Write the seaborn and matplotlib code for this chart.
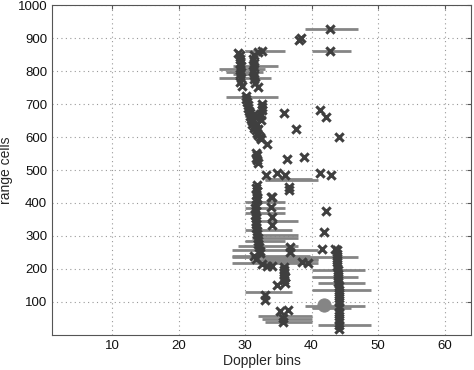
import seaborn as sns
import matplotlib.pyplot as plt
import pandas as pd

# detections (x markers): Doppler bin, range cell
det_x = [42.8, 38.1, 38.4, 42.8, 32.0, 32.6, 29.0,
         29.2, 29.3, 29.2, 29.4, 29.3, 29.2, 29.4, 29.3, 29.5,
         31.3, 31.2, 31.4, 31.3, 31.2, 31.4, 31.3, 31.5, 31.9,
         30.1, 30.2, 30.3, 30.4, 30.5, 30.6, 30.7, 30.8, 30.9, 31.0, 31.1,
         31.3, 31.4, 31.6, 31.8, 32.0, 32.2, 32.4, 31.5, 31.3, 31.8, 32.0,
         32.6, 32.6, 32.5, 32.4, 32.4, 33.3,
         35.9, 41.3, 42.2, 37.7, 44.2,
         31.7, 31.8, 31.7, 31.8, 31.9, 36.3, 38.9,
         33.2, 34.8, 36.0, 41.3, 43.0,
         36.6, 36.6, 34.1,
         31.8, 31.7, 31.8, 31.7, 31.8, 31.8,
         31.6, 31.5, 31.6, 31.5, 31.6, 31.7, 31.6, 31.7, 31.8, 31.8,
         31.9, 32.0, 32.0, 32.1, 32.2, 32.2, 31.4, 31.6,
         33.9, 33.9, 42.2, 34.1, 34.1, 41.9, 41.6, 43.6, 36.8, 36.8,
         32.5, 33.3, 34.0, 38.5, 39.5,
         35.8, 35.9, 35.8, 35.9, 36.0, 35.9, 36.0, 34.8,
         43.8, 43.8, 43.9, 43.9, 43.9, 44.0, 44.0, 44.0, 44.0, 44.1,
         44.1, 44.1, 44.1, 44.1, 44.2, 44.2, 44.2, 44.2, 44.2, 44.2,
         33.0, 33.0, 35.3, 36.5, 35.7, 35.7]
det_y = [927, 894, 900, 860, 858, 862, 854,
         850, 838, 826, 815, 803, 790, 778, 766, 755,
         848, 836, 824, 812, 800, 789, 777, 765, 752,
         725, 715, 705, 696, 688, 680, 672, 664, 656, 648, 641,
         634, 627, 620, 613, 606, 600, 594, 660, 670, 640, 625,
         700, 690, 681, 668, 651, 580,
         672, 681, 661, 624, 600,
         553, 545, 537, 529, 522, 533, 540,
         485, 491, 485, 491, 485,
         448, 439, 418,
         455, 445, 435, 425, 415, 409,
         395, 385, 375, 365, 355, 345, 335, 325, 315, 305,
         295, 285, 275, 265, 255, 248, 240, 230,
         418, 388, 376, 358, 333, 312, 261, 261, 267, 251,
         215, 210, 208, 222, 218,
         206, 198, 190, 182, 174, 166, 158, 150,
         258, 245, 232, 220, 208, 196, 184, 172, 160, 148,
         136, 124, 112, 100, 85, 70, 58, 45, 30, 18,
         121, 106, 73, 76, 40, 50]

# tracks (horizontal segments): start bin, end bin, range cell
seg_x0 = [39.0, 40.1, 30.0, 28.2, 26.1, 27.2, 28.2, 26.1, 27.2,
          33.0, 33.0, 30.0, 30.0, 30.0, 32.0, 30.0, 32.0, 31.0, 30.0,
          29.0, 28.0, 28.0, 28.0, 28.0, 32.0, 32.5, 33.0,
          40.0, 40.0, 41.0, 40.0, 30.0, 39.0, 40.0, 32.0, 32.6, 33.0, 41.0]
seg_x1 = [47.0, 46.0, 36.0, 35.0, 33.0, 32.7, 31.8, 33.9, 35.0,
          41.0, 40.0, 36.0, 36.0, 36.0, 38.0, 37.0, 38.0, 38.0, 36.0,
          38.0, 41.0, 39.8, 47.0, 41.0, 41.0, 41.0, 40.0,
          48.0, 47.0, 48.0, 49.0, 37.0, 48.0, 46.0, 40.0, 40.0, 40.0, 49.0]
seg_y = [927, 860, 860, 815, 806, 797, 791, 779, 721,
         470, 473, 403, 385, 370, 345, 318, 303, 294, 285,
         270, 258, 239, 236, 218, 226, 230, 222,
         197, 176, 158, 136, 130, 88, 82, 58, 48, 39, 30]

# target (circle)
tgt_x = [41.9]
tgt_y = [91]


def main():
    sns.set_style("white")
    plt.rcParams['font.family'] = ['Liberation Sans', 'DejaVu Sans']

    fig = plt.figure(figsize=(4.74, 3.70), dpi=100)
    ax = fig.add_axes([0.110, 0.095, 0.884, 0.891])

    ax.hlines(seg_y, seg_x0, seg_x1, colors='#858585', linewidth=2.0, zorder=2)

    det = pd.DataFrame({'bin': det_x, 'cell': det_y})
    sns.scatterplot(data=det, x='bin', y='cell', marker='x', s=36,
                    color='#3f3f3f', linewidth=2.2, ax=ax, zorder=3)

    tgt = pd.DataFrame({'bin': tgt_x, 'cell': tgt_y})
    sns.scatterplot(data=tgt, x='bin', y='cell', marker='o', s=90,
                    color='#858585', edgecolor='#858585', ax=ax, zorder=4)

    ax.set_xlim(1, 64)
    ax.set_ylim(0, 1000)
    ax.set_xticks([10, 20, 30, 40, 50, 60])
    ax.set_yticks(range(100, 1001, 100))
    ax.grid(True, linestyle=(0, (1, 3)), color='#999999', linewidth=0.8)
    ax.set_axisbelow(True)
    ax.tick_params(direction='in', length=3, top=True, right=True,
                   labelsize=9.5, color='#555555', labelcolor='#111111')
    for sp in ax.spines.values():
        sp.set_color('#555555')
        sp.set_linewidth(0.8)

    ax.set_xlabel('Doppler bins', fontsize=10, labelpad=2)
    ax.set_ylabel('range cells', fontsize=10, labelpad=3)

    fig.savefig('out.png', dpi=100)


if __name__ == "__main__":
    main()
